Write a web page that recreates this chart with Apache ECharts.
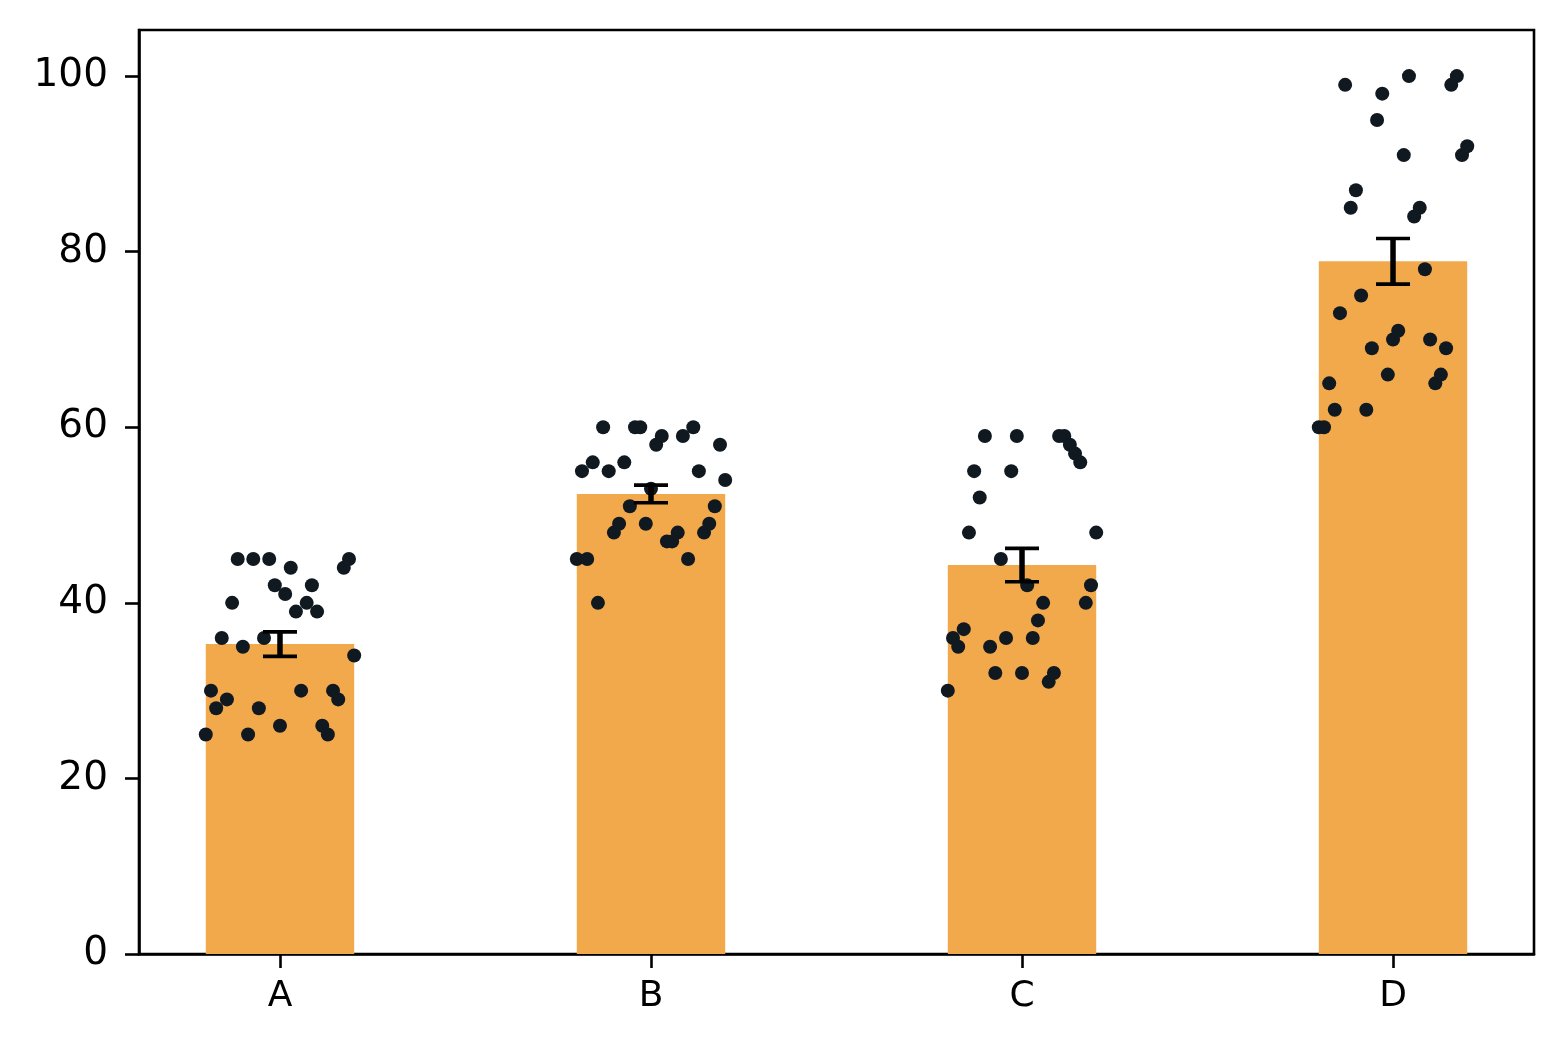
<!DOCTYPE html>
<html>
<head>
    <meta charset="utf-8">
    <title>Bar + points</title>
    <script src="https://cdn.jsdelivr.net/npm/echarts@6/dist/echarts.min.js"></script>
    <style>
        html, body {
            margin: 0;
            padding: 0;
            background: #fff;
        }
        #chart1 {
            width: 1563px;
            height: 1049px;
        }
    </style>
</head>
<body>
<div id="chart1"></div>

<script type="text/javascript">
    // categories and tick labels
    var categories = ['A', 'B', 'C', 'D'];
    var yTicks = [0, 20, 40, 60, 80, 100];

    // bar heights (means) and error half-widths
    var means = [35.3, 52.4, 44.3, 78.9];
    var errors = [1.4, 1.0, 1.9, 2.6];

    // horizontal jitter of the points inside each group (same order for all groups)
    var jitter = [-0.2, -0.186, -0.172, -0.157, -0.143, -0.129, -0.114, -0.1, -0.086, -0.072,
        -0.057, -0.043, -0.029, -0.014, 0, 0.014, 0.029, 0.043, 0.057, 0.072,
        0.086, 0.1, 0.114, 0.129, 0.143, 0.157, 0.172, 0.186, 0.2];

    // individual points per group
    var pointsA = [25, 30, 28, 36, 29, 40, 45, 35, 25, 45, 28, 36, 45, 42, 26, 41, 44, 39, 30, 40,
        42, 39, 26, 25, 30, 29, 44, 45, 34];
    var pointsB = [45, 55, 45, 56, 40, 60, 55, 48, 49, 56, 51, 60, 60, 49, 53, 58, 59, 47, 47, 48,
        59, 45, 60, 55, 48, 49, 51, 58, 54];
    var pointsC = [30, 36, 35, 37, 48, 55, 52, 59, 35, 32, 45, 36, 55, 59, 32, 42, 36, 38, 40, 31,
        32, 59, 59, 58, 57, 56, 40, 42, 48];
    var pointsD = [60, 60, 65, 62, 73, 99, 85, 87, 75, 62, 69, 95, 98, 66, 70, 71, 91, 100, 84, 85,
        78, 70, 65, 66, 69, 99, 100, 91, 92];

    var groups = [pointsA, pointsB, pointsC, pointsD];

    var barData = [];
    var errData = [];
    var scatterData = [];
    for (var i = 0; i < categories.length; i++) {
        barData.push([i, means[i]]);
        errData.push([i, means[i] - errors[i], means[i] + errors[i]]);
        for (var j = 0; j < groups[i].length; j++) {
            scatterData.push([i + jitter[j], groups[i][j]]);
        }
    }

    var myChart = echarts.init(document.getElementById('chart1'));
    myChart.setOption({
        animation: false,
        grid: {
            left: 139,
            right: 29,
            top: 30,
            bottom: 95,
            show: true,
            borderColor: '#000',
            borderWidth: 2.6,
            backgroundColor: 'transparent'
        },
        xAxis: {
            type: 'value',
            min: -0.38,
            max: 3.38,
            splitLine: {show: false},
            axisLine: {show: true, onZero: false, lineStyle: {color: '#000', width: 2.6}},
            axisTick: {show: true, length: 14, lineStyle: {color: '#000', width: 2.6}, customValues: [0, 1, 2, 3]},
            axisLabel: {
                customValues: [0, 1, 2, 3],
                margin: 25,
                fontFamily: 'DejaVu Sans',
                fontSize: 36,
                color: '#000',
                formatter: function (v) {
                    return categories[Math.round(v)];
                }
            }
        },
        yAxis: {
            type: 'value',
            min: 0,
            max: 105.25,
            splitLine: {show: false},
            axisLine: {show: true, onZero: false, lineStyle: {color: '#000', width: 2.6}},
            axisTick: {show: true, length: 14, lineStyle: {color: '#000', width: 2.6}, customValues: yTicks},
            axisLabel: {
                customValues: yTicks,
                margin: 31,
                fontFamily: 'DejaVu Sans',
                fontSize: 39,
                color: '#000'
            }
        },
        series: [{
            // bars
            type: 'custom',
            data: barData,
            z: 1,
            renderItem: function (params, api) {
                var x = api.value(0);
                var p1 = api.coord([x - 0.2, api.value(1)]);
                var p2 = api.coord([x + 0.2, 0]);
                return {
                    type: 'rect',
                    shape: {x: p1[0], y: p1[1], width: p2[0] - p1[0], height: p2[1] - p1[1]},
                    style: {fill: '#f2a94c'}
                };
            }
        }, {
            // points
            type: 'scatter',
            data: scatterData,
            z: 2,
            symbol: 'circle',
            symbolSize: 14,
            itemStyle: {color: '#101820', opacity: 1}
        }, {
            // error bars
            type: 'custom',
            data: errData,
            z: 3,
            renderItem: function (params, api) {
                var x = api.value(0);
                var lo = api.coord([x, api.value(1)]);
                var hi = api.coord([x, api.value(2)]);
                var cap = 17;
                var capStyle = {stroke: '#000', lineWidth: 3.7};
                return {
                    type: 'group',
                    children: [
                        {type: 'line', shape: {x1: lo[0], y1: lo[1], x2: hi[0], y2: hi[1]}, style: {stroke: '#000', lineWidth: 5.5}},
                        {type: 'line', shape: {x1: lo[0] - cap, y1: lo[1], x2: lo[0] + cap, y2: lo[1]}, style: capStyle},
                        {type: 'line', shape: {x1: hi[0] - cap, y1: hi[1], x2: hi[0] + cap, y2: hi[1]}, style: capStyle}
                    ]
                };
            }
        }]
    });
</script>
</body>
</html>
